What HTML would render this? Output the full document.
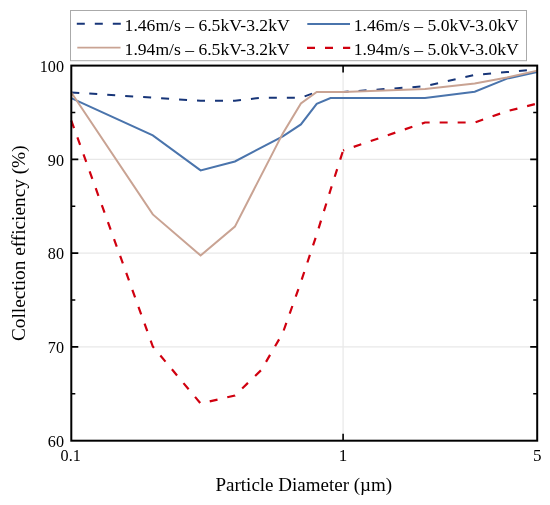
<!DOCTYPE html>
<html><head><meta charset="utf-8"><title>Collection efficiency</title>
<style>html,body{margin:0;padding:0;background:#fff;width:550px;height:505px;overflow:hidden}svg{display:block}</style>
</head><body>
<svg width="550" height="505" viewBox="0 0 550 505">
<rect width="550" height="505" fill="#fff"/>
<line x1="72" y1="159.38" x2="536" y2="159.38" stroke="#e8e8e8" stroke-width="1.2"/>
<line x1="72" y1="253.15" x2="536" y2="253.15" stroke="#e8e8e8" stroke-width="1.2"/>
<line x1="72" y1="346.92" x2="536" y2="346.92" stroke="#e8e8e8" stroke-width="1.2"/>
<line x1="343.10" y1="66" x2="343.10" y2="440" stroke="#e8e8e8" stroke-width="1.2"/>
<polyline points="71.3,120.5 152.8,346.5 200.6,403.5 234.9,395.5 261.3,370.0 282.8,333.0 300.9,282.0 316.7,234.5 330.5,190.0 343.1,150.5" fill="none" stroke="#d0000f" stroke-width="2.2" stroke-dasharray="8 10"/>
<polyline points="343.1,150.5 425.0,122.5 474.7,122.5 507.0,111.2 537.2,103.6" fill="none" stroke="#d0000f" stroke-width="2.2" stroke-dasharray="8 10" stroke-dashoffset="6.8"/>
<polyline points="71.3,92.4 200.6,100.8 234.9,100.8 261.3,97.7 282.8,97.7 300.9,97.7 316.7,92.0 330.5,92.0 343.1,92.0" fill="none" stroke="#173578" stroke-width="2.0" stroke-dasharray="8 10"/>
<polyline points="343.1,92.0 425.0,86.3 474.7,74.9 507.0,72.1 537.2,69.4" fill="none" stroke="#173578" stroke-width="2.0" stroke-dasharray="8 10" stroke-dashoffset="2.5"/>
<polyline points="71.3,98.1 152.8,135.4 200.6,170.4 234.9,161.5 282.8,136.3 300.9,124.4 316.7,103.8 330.5,98.0 343.1,98.0 425.0,98.0 474.7,91.7 507.0,78.6 537.2,72.1" fill="none" stroke="#4a74ac" stroke-width="2.0" stroke-linejoin="miter"/>
<polyline points="71.3,92.5 152.8,214.4 200.6,255.5 234.9,226.6 282.8,133.4 300.9,103.5 316.7,92.0 330.5,92.0 343.1,92.0 425.0,89.1 474.7,83.6 507.0,77.5 537.2,70.6" fill="none" stroke="#c9a393" stroke-width="2.0" stroke-linejoin="miter"/>
<rect x="71.3" y="65.6" width="465.9" height="375.1" fill="none" stroke="#000" stroke-width="2"/>
<path d="M71.3 112.49h4M537.2 112.49h-4M71.3 159.38h7M537.2 159.38h-7M71.3 206.26h4M537.2 206.26h-4M71.3 253.15h7M537.2 253.15h-7M71.3 300.04h4M537.2 300.04h-4M71.3 346.92h7M537.2 346.92h-7M71.3 393.81h4M537.2 393.81h-4M343.10 440.7v-7M343.10 65.6v7" stroke="#000" stroke-width="1.6" fill="none"/>
<text transform="translate(64.0 71.7) scale(0.95 1)" text-anchor="end" font-family='"Liberation Serif", "Times New Roman", serif' font-size="17">100</text>
<text transform="translate(64.0 165.5) scale(0.95 1)" text-anchor="end" font-family='"Liberation Serif", "Times New Roman", serif' font-size="17">90</text>
<text transform="translate(64.0 259.2) scale(0.95 1)" text-anchor="end" font-family='"Liberation Serif", "Times New Roman", serif' font-size="17">80</text>
<text transform="translate(64.0 353.0) scale(0.95 1)" text-anchor="end" font-family='"Liberation Serif", "Times New Roman", serif' font-size="17">70</text>
<text transform="translate(64.0 446.8) scale(0.95 1)" text-anchor="end" font-family='"Liberation Serif", "Times New Roman", serif' font-size="17">60</text>
<text transform="translate(70.7 461.4) scale(0.95 1)" text-anchor="middle" font-family='"Liberation Serif", "Times New Roman", serif' font-size="17">0.1</text>
<text x="343.1" y="461.2" text-anchor="middle" font-family='"Liberation Serif", "Times New Roman", serif' font-size="17">1</text>
<text x="537.3" y="461.2" text-anchor="middle" font-family='"Liberation Serif", "Times New Roman", serif' font-size="17">5</text>
<text x="215.5" y="491.3" font-family='"Liberation Serif", "Times New Roman", serif' font-size="19">Particle Diameter (µm)</text>
<text transform="translate(24.6 341) rotate(-90)" x="0" y="0" font-family='"Liberation Serif", "Times New Roman", serif' font-size="19.3">Collection efficiency (%)</text>
<rect x="70.5" y="10.5" width="456" height="50.2" fill="#fff" stroke="#aaa" stroke-width="1"/>
<line x1="76.8" y1="23.8" x2="121" y2="23.8" stroke="#173578" stroke-width="2.1" stroke-dasharray="8 10"/>
<line x1="77.3" y1="47.7" x2="120.5" y2="47.7" stroke="#c9a393" stroke-width="1.8"/>
<line x1="307.3" y1="24" x2="350" y2="24" stroke="#4a74ac" stroke-width="2"/>
<line x1="307" y1="47.8" x2="350.2" y2="47.8" stroke="#d0000f" stroke-width="2.2" stroke-dasharray="8 10"/>
<text x="124.6" y="30.6" font-family='"Liberation Serif", "Times New Roman", serif' font-size="17.6">1.46m/s – 6.5kV-3.2kV</text>
<text x="124.6" y="54.5" font-family='"Liberation Serif", "Times New Roman", serif' font-size="17.6">1.94m/s – 6.5kV-3.2kV</text>
<text x="353.7" y="30.6" font-family='"Liberation Serif", "Times New Roman", serif' font-size="17.6">1.46m/s – 5.0kV-3.0kV</text>
<text x="353.7" y="54.5" font-family='"Liberation Serif", "Times New Roman", serif' font-size="17.6">1.94m/s – 5.0kV-3.0kV</text>
</svg>
</body></html>
